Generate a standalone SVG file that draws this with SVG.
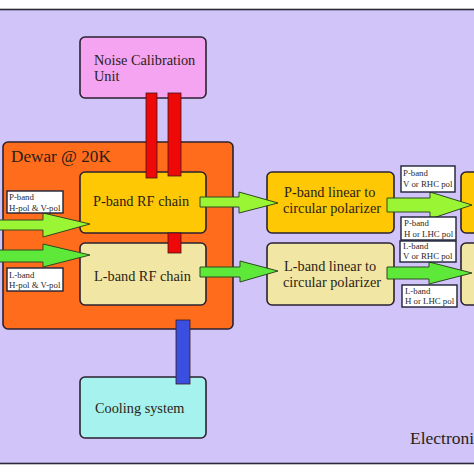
<svg xmlns="http://www.w3.org/2000/svg" width="474" height="474" viewBox="0 0 474 474">
<defs>
<style>
.bx{stroke:#2a2230;stroke-width:1.6}
.t{font-family:"Liberation Serif","Times New Roman",serif;fill:#2a1e16;font-size:14.3px}
.s{font-family:"Liberation Serif","Times New Roman",serif;fill:#2a2a2a;font-size:8.8px}
.lb{fill:#ffffff;stroke:#1e2236;stroke-width:1.4}
.ap{fill:#9af535;stroke:#2f4a20;stroke-width:1}
.al{fill:#5ee83a;stroke:#2f4a20;stroke-width:1}
.bar{stroke:#3a1a1a;stroke-width:0.8}
</style>
</defs>
<rect x="0" y="0" width="474" height="474" fill="#ffffff"/>
<rect x="-2" y="9.5" width="478" height="454" fill="#d0c4f9" stroke="#2a2a3a" stroke-width="1.6"/>

<g id="dewar">
<rect class="bx" x="3" y="142" width="230" height="187" rx="5" fill="#ff6c1c"/>
<text class="t" x="11" y="162" style="font-size:17.2px">Dewar @ 20K</text>
</g>

<g id="noise">
<rect class="bx" x="80" y="37" width="126" height="61" rx="5" fill="#f5a4f2"/>
<text class="t" x="94" y="65">Noise Calibration</text>
<text class="t" x="94" y="81">Unit</text>
</g>

<g id="prf">
<rect class="bx" x="80" y="172" width="126" height="61" rx="5" fill="#ffc805"/>
<text class="t" x="93" y="206">P-band RF chain</text>
</g>

<g id="lrf">
<rect class="bx" x="80" y="243" width="126" height="62" rx="5" fill="#f2e6a4"/>
<text class="t" x="94" y="281">L-band RF chain</text>
</g>

<g id="cooling">
<rect class="bx" x="80" y="377" width="126" height="61" rx="5" fill="#a6f2ee"/>
<text class="t" x="95" y="413">Cooling system</text>
</g>

<g id="ppol">
<rect class="bx" x="267" y="172" width="127" height="61" rx="5" fill="#ffc805"/>
<text class="t" x="284" y="197">P-band linear to</text>
<text class="t" x="283" y="213">circular polarizer</text>
</g>

<g id="lpol">
<rect class="bx" x="267" y="243" width="127" height="62" rx="5" fill="#f2e6a4"/>
<text class="t" x="284" y="271">L-band linear to</text>
<text class="t" x="283" y="287">circular polarizer</text>
</g>

<g id="pright">
<rect class="bx" x="461" y="172" width="30" height="61" rx="5" fill="#ffc805"/>
</g>
<g id="lright">
<rect class="bx" x="461" y="243" width="30" height="62" rx="5" fill="#f2e6a4"/>
</g>

<g id="connectors">
<rect class="bar" x="146" y="93" width="11" height="85" fill="#ee0808"/>
<rect class="bar" x="168" y="93" width="13" height="83" fill="#ee0808"/>
<rect class="bar" x="168" y="233" width="13" height="20" fill="#ee0808"/>
<rect class="bar" x="176" y="320" width="14" height="64" fill="#3a4ee0"/>
<polygon class="ap" points="-2,220 43,220 43,213 90,224 43,237 43,230 -2,230"/>
<polygon class="al" points="-2,250 43,250 43,244 90,255 43,267 43,262 -2,262"/>
<polygon class="ap" points="200,197 239,197 239,192 278,203 239,213 239,207 200,207"/>
<polygon class="al" points="200,267 240,267 240,261 278,271 240,282 240,277 200,277"/>
<polygon class="ap" points="387,198 430,198 430,192 472,205 430,219 430,212 387,212"/>
<polygon class="al" points="387,267 429,267 429,262 472,273 429,284 429,279 387,279"/>
</g>

<g id="labels">
<rect class="lb" x="7" y="191" width="56" height="22"/>
<text class="s" x="9" y="200">P-band</text>
<text class="s" x="9" y="211">H-pol &amp; V-pol</text>
<rect class="lb" x="7" y="268" width="56" height="23"/>
<text class="s" x="9" y="278">L-band</text>
<text class="s" x="9" y="288">H-pol &amp; V-pol</text>
<rect class="lb" x="401" y="166" width="54" height="26"/>
<text class="s" x="403" y="176">P-band</text>
<text class="s" x="403" y="187">V or RHC pol</text>
<rect class="lb" x="401" y="217" width="55" height="23"/>
<text class="s" x="404" y="226">P-band</text>
<text class="s" x="404" y="237">H or LHC pol</text>
<rect class="lb" x="400" y="241" width="56" height="21"/>
<text class="s" x="403" y="249">L-band</text>
<text class="s" x="403" y="259">V or RHC pol</text>
<rect class="lb" x="402" y="285" width="55" height="22"/>
<text class="s" x="405" y="294">L-band</text>
<text class="s" x="405" y="304">H or LHC pol</text>
</g>

<text class="t" x="410" y="444" style="font-size:17.5px">Electroni</text>
</svg>
